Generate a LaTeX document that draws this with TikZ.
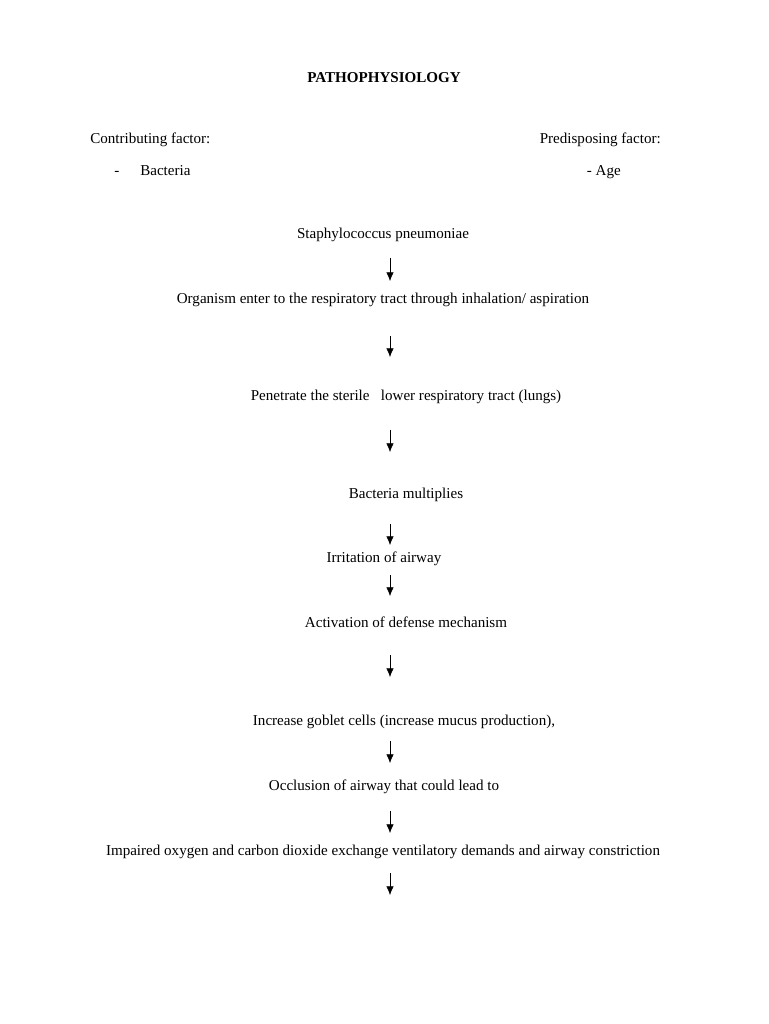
\documentclass[tikz,border=0pt]{standalone}
\usepackage{fontspec}
\setmainfont{Liberation Serif}
\tikzset{step text/.style={inner sep=0pt,text height=11pt,text depth=2.5pt,font=\fontsize{11.3}{13}\selectfont}}
\tikzset{flow/.style={-{Latex[length=6.5pt,width=5.5pt]},thin}}
\usetikzlibrary{arrows.meta}

\begin{document}
\begin{tikzpicture}[x=0.75pt,y=-0.75pt]
        % page
        \useasboundingbox (0,0) rectangle (768,1024);
        % heading and factors
        \node[step text,font=\fontsize{11.3}{13}\selectfont\bfseries] (title) at (384,77) {PATHOPHYSIOLOGY};
        \node[step text,anchor=west] (contrib) at (90,138) {Contributing factor:};
        \node[step text,anchor=east] (predisp) at (661,138) {Predisposing factor:};
        \node[step text] (dash) at (117,170) {-};
        \node[step text,anchor=west] (bact) at (140,170) {Bacteria};
        \node[step text,anchor=east] (age) at (621,170) {- Age};
        % the chain
        \node[step text] (s1) at (383,233) {Staphylococcus pneumoniae};
        \node[step text] (s2) at (383,298) {Organism enter to the respiratory tract through inhalation/ aspiration};
        \node[step text] (s3) at (406,395) {Penetrate the sterile \ \ lower respiratory tract (lungs)};
        \node[step text] (s4) at (406,493) {Bacteria multiplies};
        \node[step text] (s5) at (384,557) {Irritation of airway};
        \node[step text] (s6) at (406,622) {Activation of defense mechanism};
        \node[step text] (s7) at (404,720) {Increase goblet cells (increase mucus production),};
        \node[step text] (s8) at (384,785) {Occlusion of airway that could lead to};
        \node[step text] (s9) at (383,850) {Impaired oxygen and carbon dioxide exchange ventilatory demands and airway constriction};
        \coordinate (tail) at (390,895);
        % arrows
        \draw[flow,shorten <=18.75pt,shorten >=12.75pt] (s1 -| tail) -- (s2 -| tail);
        \draw[flow,shorten <=28.5pt,shorten >=28.5pt] (s2 -| tail) -- (s3 -| tail);
        \draw[flow,shorten <=26.25pt,shorten >=30.75pt] (s3 -| tail) -- (s4 -| tail);
        \draw[flow,shorten <=23.25pt,shorten >=9pt] (s4 -| tail) -- (s5 -| tail);
        \draw[flow,shorten <=13.5pt,shorten >=19.5pt] (s5 -| tail) -- (s6 -| tail);
        \draw[flow,shorten <=24.75pt,shorten >=32.25pt] (s6 -| tail) -- (s7 -| tail);
        \draw[flow,shorten <=15.75pt,shorten >=16.5pt] (s7 -| tail) -- (s8 -| tail);
        \draw[flow,shorten <=19.5pt,shorten >=12.75pt] (s8 -| tail) -- (s9 -| tail);
        \draw[flow,shorten <=17.25pt] (s9 -| tail) -- (tail);
\end{tikzpicture}
\end{document}
